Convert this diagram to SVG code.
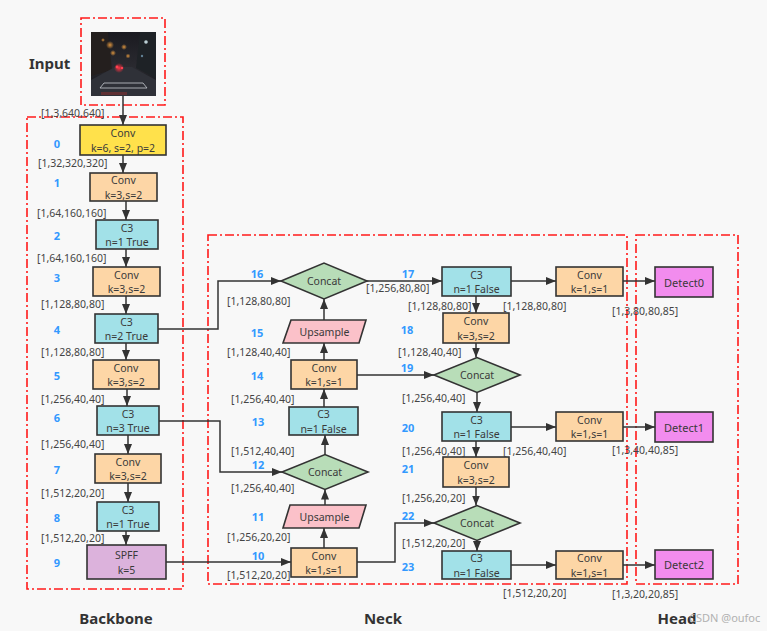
<svg xmlns="http://www.w3.org/2000/svg" width="767" height="631" viewBox="0 0 767 631">
<defs>
<style>
text{font-family:"Noto Sans","Open Sans","Liberation Sans",sans-serif;fill:#3a3a3a}
.bx{stroke:#333;stroke-width:1.6}
.conv{fill:#FDD6A6}
.c3{fill:#A2E1E8}
.cat{fill:#B8DDB8}
.up{fill:#FBC1C9}
.det{fill:#F28CEE}
.lb{font-size:10.5px;text-anchor:middle;dominant-baseline:central}
.sh{font-size:10.5px;dominant-baseline:central;fill:#444}
.num{font-size:11px;font-weight:bold;fill:#3399FF;text-anchor:middle;dominant-baseline:central}
.ttl{font-size:15px;font-weight:bold;fill:#333;dominant-baseline:central}
.grp{fill:none;stroke:#FF1A1A;stroke-width:1.6;stroke-dasharray:9 3 2 3}
.cn path,.cn line{fill:none;stroke:#333;stroke-width:1.5;marker-end:url(#ah)}
</style>
<marker id="ah" viewBox="0 0 10 8" refX="10" refY="4" markerWidth="10" markerHeight="8" markerUnits="userSpaceOnUse" orient="auto">
<path d="M0,0 L10,4 L0,8 Z" fill="#333"/>
</marker>
<linearGradient id="sky" x1="0" y1="0" x2="0" y2="1">
<stop offset="0" stop-color="#1a1a20"/>
<stop offset="0.55" stop-color="#2a2a30"/>
<stop offset="1" stop-color="#101012"/>
</linearGradient>
<radialGradient id="glow" cx="0.5" cy="0.5" r="0.5">
<stop offset="0" stop-color="#F0A040" stop-opacity="0.9"/>
<stop offset="1" stop-color="#F0A040" stop-opacity="0"/>
</radialGradient>
<radialGradient id="redg" cx="0.5" cy="0.5" r="0.5">
<stop offset="0" stop-color="#FF3040" stop-opacity="1"/>
<stop offset="1" stop-color="#FF3040" stop-opacity="0"/>
</radialGradient>
</defs>
<rect width="767" height="631" fill="#F8F8F8"/>

<!-- group frames -->
<g id="frames">
<rect class="grp" x="81" y="18" width="84" height="87"/>
<rect class="grp" x="27" y="117" width="156" height="472"/>
<rect class="grp" x="208" y="235" width="419" height="349"/>
<rect class="grp" x="636" y="235" width="102" height="349"/>
</g>

<!-- titles -->
<g id="titles">
<text class="ttl" x="29" y="63">Input</text>
<text class="ttl" x="116" y="618" text-anchor="middle">Backbone</text>
<text class="ttl" x="383" y="618" text-anchor="middle">Neck</text>
<text class="ttl" x="677" y="618" text-anchor="middle">Head</text>
<text x="689" y="617" font-size="11" style="fill:#a0a0a0" dominant-baseline="central" opacity="0.8">CSDN @oufoc</text>
</g>

<!-- input picture -->
<g id="input">
<rect x="91" y="32" width="65" height="64" fill="url(#sky)"/>
<polygon points="91,32 108,32 112,70 91,76" fill="#241f1e"/>
<polygon points="140,32 156,32 156,78 136,68" fill="#1e2226"/>
<polygon points="91,96 156,96 156,80 132,67 115,67 91,80" fill="#2f3138"/>
<polygon points="104,83 143,83 147,88 100,88" fill="none" stroke="#c8ccd2" stroke-width="0.8"/>
<circle cx="110" cy="45" r="4" fill="url(#glow)"/>
<circle cx="113" cy="53" r="3" fill="url(#glow)"/>
<circle cx="124" cy="47" r="3" fill="url(#glow)"/>
<circle cx="128" cy="56" r="2.5" fill="url(#glow)"/>
<circle cx="103" cy="40" r="2" fill="url(#glow)"/>
<circle cx="146" cy="42" r="1.8" fill="#D8EEF4" opacity="0.85"/>
<circle cx="142" cy="56" r="1.2" fill="#90C0E0" opacity="0.6"/>
<circle cx="119" cy="68" r="5" fill="url(#redg)"/>
<circle cx="117" cy="67" r="1.4" fill="#FF4050"/>
<circle cx="122" cy="68" r="1.2" fill="#FF4050"/>
<rect x="101" y="92" width="26" height="3" fill="#803030" opacity="0.6"/>
</g>

<!-- connectors -->
<g id="connectors" class="cn">
<line x1="123" y1="96" x2="123" y2="125"/>
<line x1="123" y1="155" x2="123" y2="173"/>
<line x1="126" y1="201" x2="126" y2="220"/>
<line x1="126" y1="249" x2="126" y2="267"/>
<line x1="126" y1="296" x2="126" y2="314"/>
<line x1="126" y1="343" x2="126" y2="360"/>
<line x1="127" y1="389" x2="127" y2="406"/>
<line x1="128" y1="435" x2="128" y2="454"/>
<line x1="128" y1="483" x2="128" y2="502"/>
<line x1="126" y1="531" x2="126" y2="545"/>
<path d="M158,329 H218 V281 H281"/>
<path d="M159,421 H220 V472 H282"/>
<path d="M166,562 H291"/>
<line x1="324" y1="548" x2="324" y2="528"/>
<line x1="325" y1="505" x2="325" y2="489.5"/>
<line x1="325" y1="454.5" x2="325" y2="435"/>
<line x1="324" y1="407" x2="324" y2="389"/>
<line x1="324" y1="360" x2="324" y2="343"/>
<line x1="324" y1="320" x2="324" y2="299"/>
<path d="M367,281 H442"/>
<path d="M511,281 H556"/>
<path d="M623,281 H655"/>
<line x1="476" y1="296" x2="476" y2="313"/>
<line x1="476" y1="343" x2="476" y2="357.5"/>
<path d="M357,375 H434"/>
<line x1="477" y1="392.5" x2="477" y2="412"/>
<path d="M511,427 H556"/>
<path d="M623,427 H655"/>
<line x1="476" y1="441" x2="476" y2="457"/>
<line x1="476" y1="487" x2="476" y2="505.5"/>
<path d="M357,562 H395 V523 H434"/>
<line x1="477" y1="540.5" x2="477" y2="551"/>
<path d="M511,565 H556"/>
<path d="M623,565 H655"/>
</g>

<!-- backbone nodes -->
<g id="n0"><rect class="bx" x="80" y="125" width="86" height="30" fill="#FFE14B"/><text class="lb" x="123" y="132.5">Conv</text><text class="lb" x="123" y="147.5">k=6, s=2, p=2</text></g>
<g id="n1"><rect class="bx conv" x="90" y="173" width="67" height="28"/><text class="lb" x="123.5" y="180">Conv</text><text class="lb" x="123.5" y="194.5">k=3,s=2</text></g>
<g id="n2"><rect class="bx c3" x="96" y="220" width="62" height="29"/><text class="lb" x="127" y="227.5">C3</text><text class="lb" x="127" y="242">n=1 True</text></g>
<g id="n3"><rect class="bx conv" x="93" y="267" width="67" height="29"/><text class="lb" x="126.5" y="274.5">Conv</text><text class="lb" x="126.5" y="289">k=3,s=2</text></g>
<g id="n4"><rect class="bx c3" x="95" y="314" width="63" height="29"/><text class="lb" x="126.5" y="321.5">C3</text><text class="lb" x="126.5" y="336">n=2 True</text></g>
<g id="n5"><rect class="bx conv" x="93" y="360" width="66" height="29"/><text class="lb" x="126" y="367.5">Conv</text><text class="lb" x="126" y="382">k=3,s=2</text></g>
<g id="n6"><rect class="bx c3" x="97" y="406" width="62" height="29"/><text class="lb" x="128" y="413.5">C3</text><text class="lb" x="128" y="428">n=3 True</text></g>
<g id="n7"><rect class="bx conv" x="95" y="454" width="66" height="29"/><text class="lb" x="128" y="461.5">Conv</text><text class="lb" x="128" y="476">k=3,s=2</text></g>
<g id="n8"><rect class="bx c3" x="97" y="502" width="62" height="29"/><text class="lb" x="128" y="509.5">C3</text><text class="lb" x="128" y="524">n=1 True</text></g>
<g id="n9"><rect class="bx" x="87" y="545" width="79" height="34" fill="#DCB2DC"/><text class="lb" x="126.5" y="554.5">SPFF</text><text class="lb" x="126.5" y="569.5">k=5</text></g>

<!-- neck left column -->
<g id="n10"><rect class="bx conv" x="291" y="548" width="66" height="29"/><text class="lb" x="324" y="555.5">Conv</text><text class="lb" x="324" y="570">k=1,s=1</text></g>
<g id="n11"><polygon class="bx up" points="290,505 366,505 359,528 283,528"/><text class="lb" x="324.5" y="516.5">Upsample</text></g>
<g id="n12"><polygon class="bx cat" points="282,472 325,454.5 368,472 325,489.5"/><text class="lb" x="325" y="472">Concat</text></g>
<g id="n13"><rect class="bx c3" x="289" y="407" width="69" height="28"/><text class="lb" x="323.5" y="414">C3</text><text class="lb" x="323.5" y="428.5">n=1 False</text></g>
<g id="n14"><rect class="bx conv" x="291" y="360" width="66" height="29"/><text class="lb" x="324" y="367.5">Conv</text><text class="lb" x="324" y="382">k=1,s=1</text></g>
<g id="n15"><polygon class="bx up" points="291,320 366,320 359,343 283,343"/><text class="lb" x="324.5" y="331.5">Upsample</text></g>
<g id="n16"><polygon class="bx cat" points="281,281 324,263 367,281 324,299"/><text class="lb" x="324" y="281">Concat</text></g>

<!-- neck right column -->
<g id="n17"><rect class="bx c3" x="442" y="267" width="69" height="29"/><text class="lb" x="476.5" y="274.5">C3</text><text class="lb" x="476.5" y="289">n=1 False</text></g>
<g id="n18"><rect class="bx conv" x="443" y="313" width="66" height="30"/><text class="lb" x="476" y="320.5">Conv</text><text class="lb" x="476" y="335.5">k=3,s=2</text></g>
<g id="n19"><polygon class="bx cat" points="434,375 477,357.5 520,375 477,392.5"/><text class="lb" x="477" y="375">Concat</text></g>
<g id="n20"><rect class="bx c3" x="442" y="412" width="69" height="29"/><text class="lb" x="476.5" y="419.5">C3</text><text class="lb" x="476.5" y="434">n=1 False</text></g>
<g id="n21"><rect class="bx conv" x="443" y="457" width="66" height="30"/><text class="lb" x="476" y="464.5">Conv</text><text class="lb" x="476" y="479.5">k=3,s=2</text></g>
<g id="n22"><polygon class="bx cat" points="434,523 477,505.5 520,523 477,540.5"/><text class="lb" x="477" y="523">Concat</text></g>
<g id="n23"><rect class="bx c3" x="442" y="551" width="69" height="28"/><text class="lb" x="476.5" y="558">C3</text><text class="lb" x="476.5" y="572.5">n=1 False</text></g>

<!-- head -->
<g id="h0"><rect class="bx conv" x="556" y="267" width="67" height="29"/><text class="lb" x="589.5" y="274.5">Conv</text><text class="lb" x="589.5" y="289">k=1,s=1</text></g>
<g id="h1"><rect class="bx conv" x="556" y="412" width="67" height="29"/><text class="lb" x="589.5" y="419.5">Conv</text><text class="lb" x="589.5" y="434">k=1,s=1</text></g>
<g id="h2"><rect class="bx conv" x="556" y="551" width="67" height="28"/><text class="lb" x="589.5" y="558">Conv</text><text class="lb" x="589.5" y="572.5">k=1,s=1</text></g>
<g id="d0"><rect class="bx det" x="655" y="267" width="58" height="30"/><text class="lb" x="684" y="282" style="font-size:11px">Detect0</text></g>
<g id="d1"><rect class="bx det" x="655" y="412" width="58" height="30"/><text class="lb" x="684" y="427" style="font-size:11px">Detect1</text></g>
<g id="d2"><rect class="bx det" x="655" y="550" width="58" height="29"/><text class="lb" x="684" y="564.5" style="font-size:11px">Detect2</text></g>

<!-- layer numbers -->
<g id="numbers">
<text class="num" x="57" y="143">0</text>
<text class="num" x="57" y="182">1</text>
<text class="num" x="57" y="235">2</text>
<text class="num" x="57" y="277">3</text>
<text class="num" x="57" y="329">4</text>
<text class="num" x="57" y="375">5</text>
<text class="num" x="57" y="417">6</text>
<text class="num" x="57" y="469">7</text>
<text class="num" x="57" y="517">8</text>
<text class="num" x="57" y="562">9</text>
<text class="num" x="258" y="555">10</text>
<text class="num" x="258" y="516">11</text>
<text class="num" x="258" y="464">12</text>
<text class="num" x="258" y="421">13</text>
<text class="num" x="257" y="375">14</text>
<text class="num" x="257" y="332">15</text>
<text class="num" x="257" y="273">16</text>
<text class="num" x="408" y="273">17</text>
<text class="num" x="407" y="329">18</text>
<text class="num" x="407" y="367">19</text>
<text class="num" x="408" y="427">20</text>
<text class="num" x="408" y="468">21</text>
<text class="num" x="408" y="515">22</text>
<text class="num" x="408" y="566">23</text>
</g>

<!-- tensor shapes -->
<g id="shapes">
<text class="sh" x="41" y="113">[1,3,640,640]</text>
<text class="sh" x="38" y="163">[1,32,320,320]</text>
<text class="sh" x="37" y="213">[1,64,160,160]</text>
<text class="sh" x="37" y="258">[1,64,160,160]</text>
<text class="sh" x="41" y="304">[1,128,80,80]</text>
<text class="sh" x="41" y="352">[1,128,80,80]</text>
<text class="sh" x="41" y="399">[1,256,40,40]</text>
<text class="sh" x="41" y="444">[1,256,40,40]</text>
<text class="sh" x="41" y="493">[1,512,20,20]</text>
<text class="sh" x="41" y="538">[1,512,20,20]</text>
<text class="sh" x="227" y="301">[1,128,80,80]</text>
<text class="sh" x="227" y="352">[1,128,40,40]</text>
<text class="sh" x="231" y="399">[1,256,40,40]</text>
<text class="sh" x="231" y="451">[1,512,40,40]</text>
<text class="sh" x="231" y="488">[1,256,40,40]</text>
<text class="sh" x="227" y="537">[1,256,20,20]</text>
<text class="sh" x="227" y="575">[1,512,20,20]</text>
<text class="sh" x="366" y="288">[1,256,80,80]</text>
<text class="sh" x="408" y="306">[1,128,80,80]</text>
<text class="sh" x="503" y="306">[1,128,80,80]</text>
<text class="sh" x="398" y="352">[1,128,40,40]</text>
<text class="sh" x="402" y="398">[1,256,40,40]</text>
<text class="sh" x="402" y="451">[1,256,40,40]</text>
<text class="sh" x="503" y="451">[1,256,40,40]</text>
<text class="sh" x="402" y="498">[1,256,20,20]</text>
<text class="sh" x="402" y="543">[1,512,20,20]</text>
<text class="sh" x="503" y="593">[1,512,20,20]</text>
<text class="sh" x="612" y="311">[1,3,80,80,85]</text>
<text class="sh" x="612" y="450">[1,3,40,40,85]</text>
<text class="sh" x="612" y="594">[1,3,20,20,85]</text>
</g>
</svg>
